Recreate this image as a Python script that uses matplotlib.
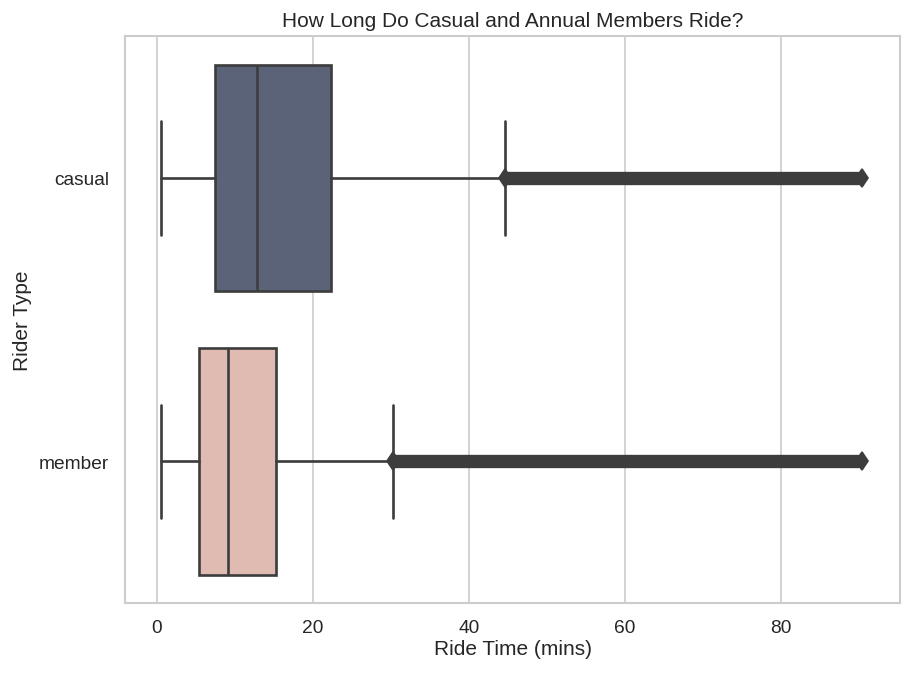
import matplotlib
matplotlib.use("Agg")
import matplotlib.pyplot as plt
import seaborn as sns

# rider types and box summary stats (minutes)
rider_types = ["casual", "member"]
whisker_lo = [0.5, 0.5]
q1 = [7.5, 5.4]
median = [12.8, 9.1]
q3 = [22.3, 15.3]
whisker_hi = [44.6, 30.3]
# outliers form a solid band from the upper whisker to the max value
flier_max = [90.8, 90.8]

box_colors = ["#5a6378", "#dfbbb1"]
line_color = "#3d3d3d"

sns.set_theme(style="whitegrid")
plt.rcParams["font.family"] = ["Liberation Sans", "DejaVu Sans"]

fig, ax = plt.subplots(figsize=(7.6, 5.64), dpi=120)

stats = []
for i, name in enumerate(rider_types):
    stats.append({
        "label": name,
        "whislo": whisker_lo[i],
        "q1": q1[i],
        "med": median[i],
        "q3": q3[i],
        "whishi": whisker_hi[i],
        "fliers": [],
    })

positions = list(range(len(rider_types)))
bp = ax.bxp(stats, positions=positions, vert=False, widths=0.8,
            patch_artist=True, showfliers=False,
            boxprops=dict(edgecolor=line_color, linewidth=1.6),
            medianprops=dict(color=line_color, linewidth=1.6),
            whiskerprops=dict(color=line_color, linewidth=1.6),
            capprops=dict(color=line_color, linewidth=1.6))
for patch, c in zip(bp["boxes"], box_colors):
    patch.set_facecolor(c)

# the outlier band
for i in positions:
    ax.plot([whisker_hi[i], flier_max[i] - 0.4], [i, i], color=line_color,
            linewidth=8, solid_capstyle="butt", zorder=3)
    ax.plot([whisker_hi[i], flier_max[i] - 0.4], [i, i], linestyle="none",
            marker="d", markersize=8, color=line_color, zorder=3)

ax.set_ylim(len(rider_types) - 0.5, -0.5)
ax.set_yticks(positions)
ax.set_yticklabels(rider_types, fontsize=11.5)
ax.tick_params(axis="x", labelsize=11.5)
ax.grid(False, axis="y")
ax.set_xlim(-4.1, 95.3)
ax.set_title("How Long Do Casual and Annual Members Ride?", fontsize=12.5)
ax.set_xlabel("Ride Time (mins)", fontsize=12.5, labelpad=2)
ax.set_ylabel("Rider Type", fontsize=12.5)

fig.subplots_adjust(left=0.137, right=0.987, top=0.945, bottom=0.108)
fig.savefig("out.png", dpi=120)
